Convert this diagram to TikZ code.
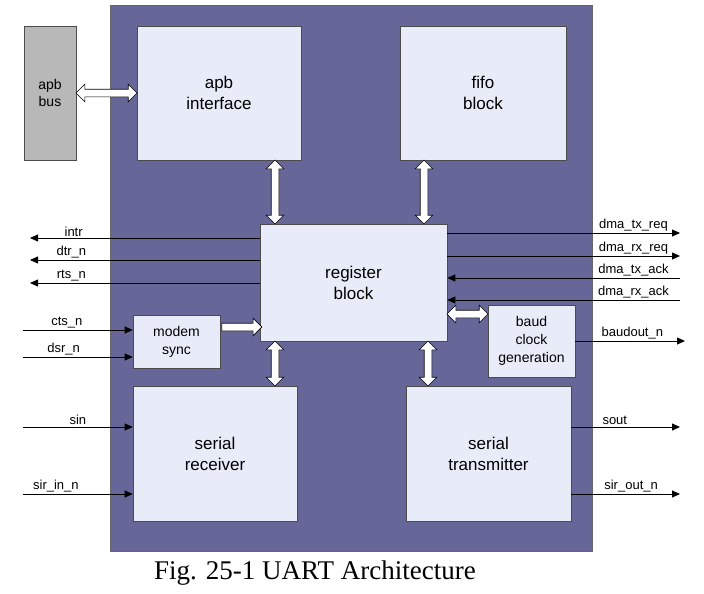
\documentclass[tikz,border=0pt]{standalone}
\usepackage{fontspec}
\setmainfont{Liberation Sans}
\newfontfamily\capfont{Liberation Serif}
\usetikzlibrary{shapes.arrows,arrows.meta}
\definecolor{bgp}{HTML}{666699}
\definecolor{blk}{HTML}{E8ECF8}
\definecolor{gry}{HTML}{B8B8B8}
\tikzset{
 blkst/.style={draw=black!70, fill=blk, line width=0.6pt, align=center, font=\fontsize{17}{21}\selectfont},
 darr/.style={double arrow, draw=black, fill=white, line width=0.6pt, inner sep=3.5pt, double arrow head extend=5pt, double arrow tip angle=90, minimum height=#1},
 sarr/.style={single arrow, draw=black, fill=white, line width=0.6pt, inner sep=3.5pt, single arrow head extend=5pt, single arrow tip angle=90, minimum height=#1},
 sig/.style={line width=0.8pt, -{Triangle[length=8pt,width=7pt]}},
 lbl/.style={font=\fontsize{13}{15}\selectfont, inner sep=1.5pt, anchor=south},
}
\begin{document}
\begin{tikzpicture}[x=1pt,y=-1pt]
\useasboundingbox (0,0) rectangle (704,594);
\fill[bgp] (110,5) rectangle (592,551);
\draw[black!60,line width=0.6pt] (110,5) rectangle (592,551);
\node[draw=black!70,fill=gry,minimum width=52,minimum height=134,align=center,font=\fontsize{14}{17}\selectfont] (apb) at (50,93) {apb\\bus};
\node[blkst,minimum width=164,minimum height=134] (apbi) at (219,93) {apb\\interface};
\node[blkst,minimum width=166,minimum height=134] (fifo) at (483,93) {fifo\\block};
\node[blkst,minimum width=187,minimum height=117] (reg) at (353.5,282.5) {register\\block};
\node[blkst,minimum width=87,minimum height=53,font=\fontsize{14}{18}\selectfont] (modem) at (176.5,341.5) {modem\\sync};
\node[blkst,minimum width=87,minimum height=72,font=\fontsize{14}{18}\selectfont] (baud) at (531.5,341) {baud\\clock\\generation};
\node[blkst,minimum width=164,minimum height=135] (rx) at (215,453.5) {serial\\receiver};
\node[blkst,minimum width=165,minimum height=135] (tx) at (488.5,453.5) {serial\\transmitter};
% hollow arrows
\node[darr=61] (a1) at (106.5,93) {};
\node[darr=64,rotate=90] (a2) at (275,192) {};
\node[darr=64,rotate=90] (a3) at (424,192) {};
\node[darr=45,rotate=90] (a4) at (275,363.5) {};
\node[darr=45,rotate=90] (a5) at (428,363.5) {};
\node[darr=41] (a6) at (467.5,314) {};
\node[sarr=40] (a7) at (240,327) {};
% left signals
\coordinate (intr) at (30,238);
\coordinate (dtr) at (30,260);
\coordinate (rts) at (30,283);
\draw[sig] (reg.west |- intr) -- (intr) node[lbl,pos=0.81] {intr};
\draw[sig] (reg.west |- dtr) -- (dtr) node[lbl,pos=0.82] {dtr\_n};
\draw[sig] (reg.west |- rts) -- (rts) node[lbl,pos=0.82] {rts\_n};
\coordinate (cts) at (23,330);
\coordinate (dsr) at (23,357);
\coordinate (sin) at (23,427);
\coordinate (sirin) at (23,494);
\draw[sig] (cts) -- (modem.west |- cts) node[lbl,pos=0.4] {cts\_n};
\draw[sig] (dsr) -- (modem.west |- dsr) node[lbl,pos=0.37] {dsr\_n};
\draw[sig] (sin) -- (rx.west |- sin) node[lbl,pos=0.5] {sin};
\draw[sig] (sirin) -- (rx.west |- sirin) node[lbl,pos=0.3] {sir\_in\_n};
% right signals
\coordinate (txr) at (680,233);
\coordinate (rxr) at (680,256);
\coordinate (txa) at (680,278);
\coordinate (rxa) at (680,300);
\draw[sig] (reg.east |- txr) -- (txr) node[lbl,pos=0.8] {dma\_tx\_req};
\draw[sig] (reg.east |- rxr) -- (rxr) node[lbl,pos=0.8] {dma\_rx\_req};
\draw[sig] (txa) -- (reg.east |- txa) node[lbl,pos=0.2] {dma\_tx\_ack};
\draw[sig] (rxa) -- (reg.east |- rxa) node[lbl,pos=0.2] {dma\_rx\_ack};
\coordinate (bo) at (685,341);
\coordinate (so) at (680,427);
\coordinate (sro) at (680,494);
\draw[sig] (baud.east |- bo) -- (bo) node[lbl,pos=0.52] {baudout\_n};
\draw[sig] (tx.east |- so) -- (so) node[lbl,pos=0.4] {sout};
\draw[sig] (tx.east |- sro) -- (sro) node[lbl,pos=0.55] {sir\_out\_n};
\node[font=\capfont\fontsize{27}{31}\selectfont] (cap) at (315,573) {Fig. 25-1 UART Architecture};
\end{tikzpicture}
\end{document}
